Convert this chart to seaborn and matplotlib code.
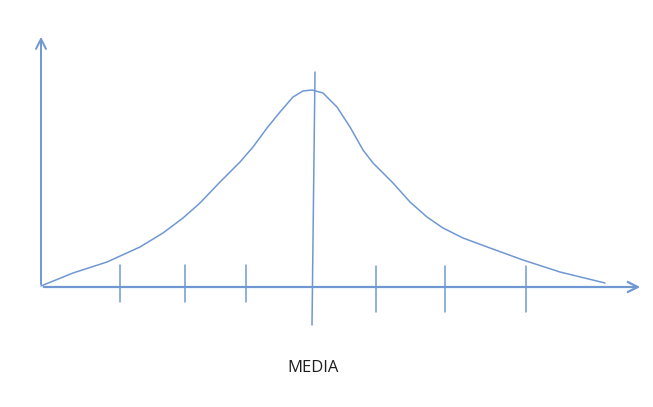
import matplotlib
matplotlib.use("Agg")
import matplotlib.pyplot as plt
import numpy as np
import pandas as pd
import seaborn as sns

# curve (pixel coordinates, y grows downward)
curve_x = [41, 73, 107, 140, 163, 183, 200, 220, 240, 253, 267, 280, 293, 303, 312,
           323, 337, 350, 363, 373, 393, 410, 427, 443, 463, 490, 523, 560, 605]
curve_y = [286, 273, 262, 247, 233, 218, 203, 182, 162, 147, 128, 112, 97, 91, 90,
           93, 107, 127, 150, 163, 183, 202, 217, 228, 238, 248, 260, 272, 283]

# tick marks on the horizontal axis
tick_x = [120, 185, 246, 376, 445, 526]
tick_top = [265, 265, 265, 266, 266, 266]
tick_bottom = [302, 302, 302, 312, 312, 312]

# median line
median_x = [315, 312]
median_y = [72, 325]
label = "MEDIA"

blue = "#6f98d3"

sns.set_style("white")
fig = plt.figure(figsize=(6.53, 4.07), dpi=100)
ax = fig.add_axes([0, 0, 1, 1])
ax.set_xlim(0, 653)
ax.set_ylim(407, 0)
ax.axis("off")

df = pd.DataFrame({"x": curve_x, "y": curve_y})
sns.lineplot(data=df, x="x", y="y", ax=ax, color=blue, lw=1.1, sort=False)

# axes with arrowheads
ax.annotate("", xy=(41, 34), xytext=(41, 287),
            arrowprops=dict(arrowstyle="->", color=blue, lw=1.4, mutation_scale=18))
ax.annotate("", xy=(643, 287), xytext=(41, 287),
            arrowprops=dict(arrowstyle="->", color=blue, lw=1.6, mutation_scale=18))

for tx, t0, t1 in zip(tick_x, tick_top, tick_bottom):
    ax.plot([tx, tx], [t0, t1], color=blue, lw=1.1)

ax.plot(median_x, median_y, color=blue, lw=1.1)

ax.text(313, 368, label, ha="center", va="center", fontsize=12,
        family=["Open Sans", "DejaVu Sans"], color="#1e1e1e")

fig.savefig("out.png", dpi=100)
